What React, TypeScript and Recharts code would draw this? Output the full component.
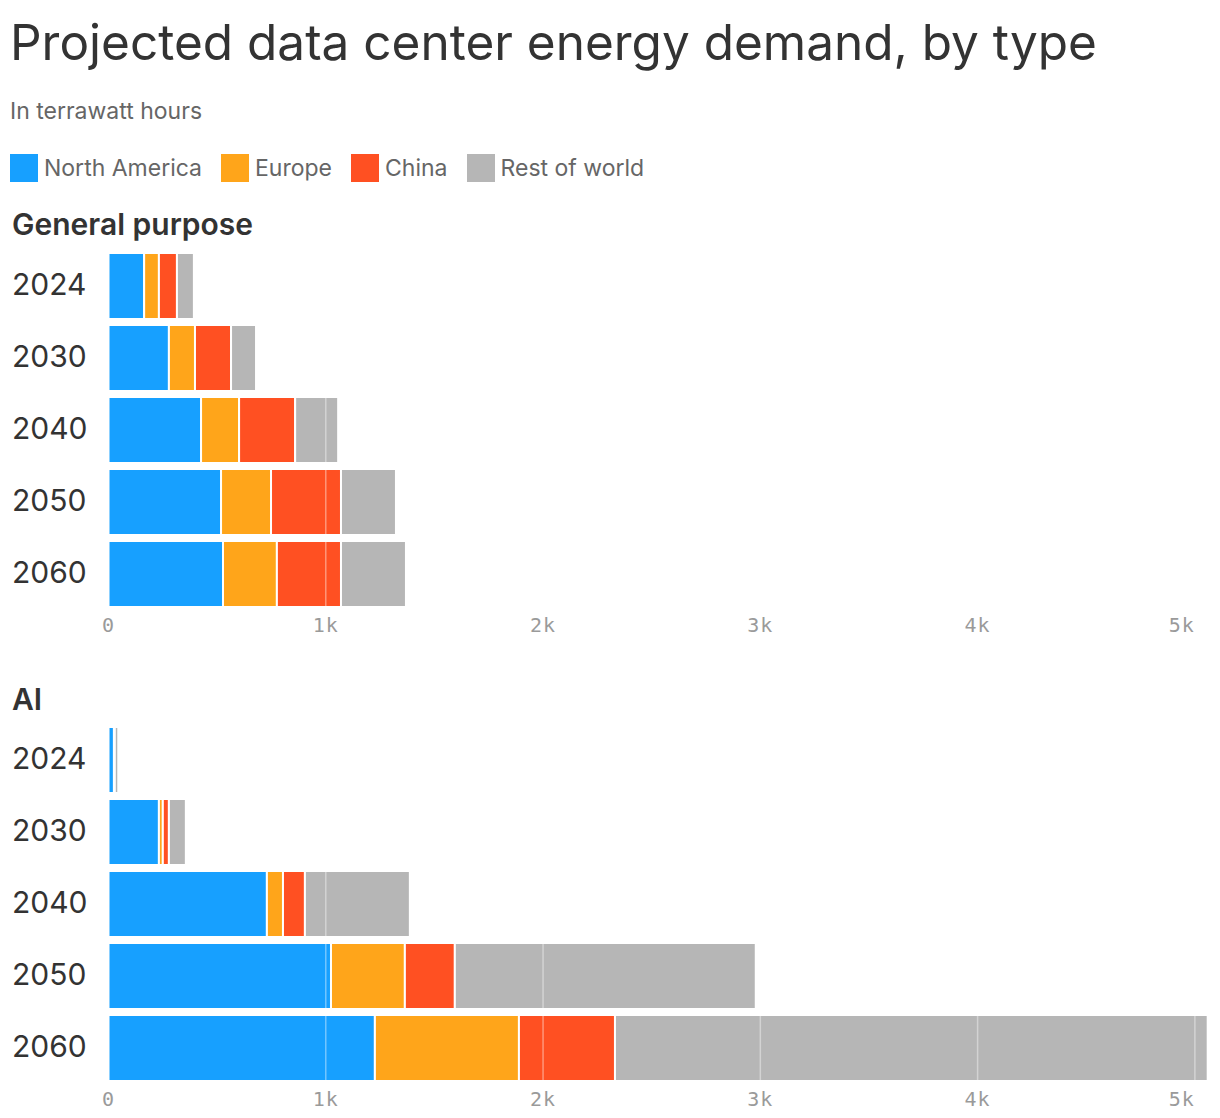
import { BarChart, Bar, XAxis, YAxis, ReferenceLine } from 'recharts';

// Terawatt hours
const YEARS = ['2024', '2030', '2040', '2050', '2060'];

const GP_NORTH_AMERICA = [164, 278, 426, 518, 527];
const GP_EUROPE = [68, 120, 175, 230, 248];
const GP_CHINA = [83, 166, 258, 322, 295];
const GP_REST = [78, 115, 198, 253, 299];

const AI_NORTH_AMERICA = [25, 232, 729, 1024, 1226];
const AI_EUROPE = [2, 18, 74, 340, 663];
const AI_CHINA = [2, 28, 101, 230, 442];
const AI_REST = [16, 78, 483, 1385, 2728];

const X_TICKS = [0, 1000, 2000, 3000, 4000, 5000];

const SERIES = [
    { key: 'northAmerica', name: 'North America', color: '#17a0ff' },
    { key: 'europe', name: 'Europe', color: '#ffa51a' },
    { key: 'china', name: 'China', color: '#ff5022' },
    { key: 'rest', name: 'Rest of world', color: '#b6b6b6' },
];

const buildRows = (na: number[], eu: number[], cn: number[], rw: number[]) =>
    YEARS.map((year, i) => ({ year, northAmerica: na[i], europe: eu[i], china: cn[i], rest: rw[i] }));

const GP_DATA = buildRows(GP_NORTH_AMERICA, GP_EUROPE, GP_CHINA, GP_REST);
const AI_DATA = buildRows(AI_NORTH_AMERICA, AI_EUROPE, AI_CHINA, AI_REST);

// both panels share the scale; the biggest AI bar runs a bit past 5k
const X_MAX = Math.max(...AI_DATA.map(d => d.northAmerica + d.europe + d.china + d.rest));

const FONT = "Inter, 'Noto Sans', sans-serif";
const MONO = "'DejaVu Sans Mono', monospace";

function YearTick(props: any) {
    const { y, payload } = props;
    return (
        <text x={12} y={y} dy={9} textAnchor="start" fontSize={30} fill="#333" fontFamily={FONT}>
            {payload.value}
        </text>
    );
}

function ValueTick(props: any) {
    const { x, y, payload } = props;
    const v = payload.value;
    const last = v === X_TICKS[X_TICKS.length - 1];
    return (
        <text x={x} y={y} dy={14} textAnchor={last ? 'end' : 'middle'} fontSize={20} fill="#9a9a9a" fontFamily={MONO} letterSpacing={1}>
            {v === 0 ? '0' : `${v / 1000}k`}
        </text>
    );
}

function Panel({ data, top, height }: { data: any[]; top: number; height: number }) {
    return (
        <div style={{ position: 'absolute', left: 0, top }}>
            <BarChart width={1220} height={height} data={data} layout="vertical" barSize={66}
                margin={{ top: 0, right: 12.3, bottom: 0, left: 0 }}>
                <XAxis type="number" domain={[0, X_MAX]} ticks={X_TICKS} interval={0} axisLine={false} tickLine={false}
                    tick={ValueTick} height={height - 360} />
                <YAxis type="category" dataKey="year" width={108.5} interval={0} axisLine={false} tickLine={false}
                    tick={YearTick} />
                {SERIES.map(s => (
                    <Bar key={s.key} dataKey={s.key} name={s.name} stackId="a" fill={s.color}
                        stroke="#fff" strokeWidth={2} isAnimationActive={false} />
                ))}
                {X_TICKS.slice(1).map(t => (
                    <ReferenceLine key={t} x={t} stroke="#fff" strokeOpacity={0.4} strokeWidth={1.5} />
                ))}
            </BarChart>
        </div>
    );
}

export default function App() {
    return (
        <div style={{ position: 'absolute', left: 0, top: 0, width: 1220, height: 1118, background: '#fff', fontFamily: FONT }}>
            <svg width={1220} height={250} style={{ position: 'absolute', left: 0, top: 0 }}>
                <text x={10} y={60} fontSize={49.5} fill="#333" fontFamily={FONT}>
                    Projected data center energy demand, by type
                </text>
                <text x={10} y={119} fontSize={23} fill="#666" fontFamily={FONT}>In terrawatt hours</text>
                <text x={12} y={235} fontSize={30} fontWeight={600} fill="#333" fontFamily={FONT}>General purpose</text>
            </svg>
            <div style={{ position: 'absolute', left: 10, top: 154, height: 28, display: 'flex', alignItems: 'center' }}>
                {SERIES.map(s => (
                    <div key={s.key} style={{ display: 'flex', alignItems: 'center', marginRight: 19 }}>
                        <span style={{ width: 28, height: 28, background: s.color, marginRight: 6 }} />
                        <span style={{ fontSize: 23, color: '#666' }}>{s.name}</span>
                    </div>
                ))}
            </div>
            <Panel data={GP_DATA} top={250} height={400} />
            <svg width={200} height={60} style={{ position: 'absolute', left: 0, top: 670 }}>
                <text x={12} y={40} fontSize={30} fontWeight={600} fill="#333" fontFamily={FONT}>AI</text>
            </svg>
            <Panel data={AI_DATA} top={724} height={394} />
        </div>
    );
}
